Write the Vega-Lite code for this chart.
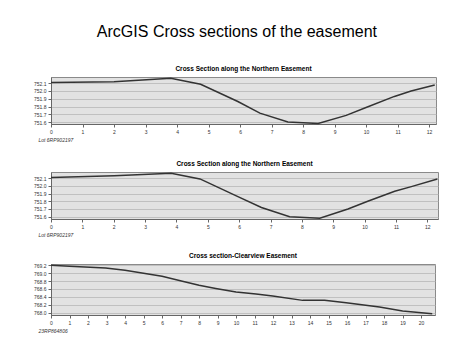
{
  "$schema": "https://vega.github.io/schema/vega-lite/v6.json",
  "padding": {"left": 32, "top": 24, "right": 10, "bottom": 5},
  "title": {"text": "ArcGIS Cross sections of the easement", "fontSize": 16, "fontWeight": "normal", "font": "Liberation Sans", "color": "#000", "anchor": "middle", "offset": 25},
  "datasets": {
    "north1": [
      {"dist": 0, "elev": 752.109},
      {"dist": 2.0, "elev": 752.12},
      {"dist": 3.8, "elev": 752.164},
      {"dist": 4.75, "elev": 752.087},
      {"dist": 5.93, "elev": 751.865},
      {"dist": 6.63, "elev": 751.715},
      {"dist": 7.52, "elev": 751.6},
      {"dist": 8.48, "elev": 751.583},
      {"dist": 9.37, "elev": 751.686},
      {"dist": 10.0, "elev": 751.788},
      {"dist": 10.9, "elev": 751.93},
      {"dist": 11.43, "elev": 752.0},
      {"dist": 12.18, "elev": 752.078}
    ],
    "north2": [
      {"dist": 0, "elev": 752.108},
      {"dist": 2.02, "elev": 752.13},
      {"dist": 3.83, "elev": 752.165},
      {"dist": 4.75, "elev": 752.09},
      {"dist": 5.96, "elev": 751.86},
      {"dist": 6.71, "elev": 751.72},
      {"dist": 7.61, "elev": 751.6},
      {"dist": 8.57, "elev": 751.58},
      {"dist": 9.47, "elev": 751.7},
      {"dist": 10.1, "elev": 751.8},
      {"dist": 10.96, "elev": 751.93},
      {"dist": 11.49, "elev": 751.99},
      {"dist": 12.32, "elev": 752.09}
    ],
    "clearview": [
      {"dist": 0, "elev": 769.2},
      {"dist": 1.0, "elev": 769.175},
      {"dist": 2.95, "elev": 769.13},
      {"dist": 4.0, "elev": 769.07},
      {"dist": 6.0, "elev": 768.92},
      {"dist": 7.1, "elev": 768.795},
      {"dist": 8.0, "elev": 768.69},
      {"dist": 8.9, "elev": 768.61},
      {"dist": 10.0, "elev": 768.52},
      {"dist": 11.08, "elev": 768.47},
      {"dist": 11.98, "elev": 768.42},
      {"dist": 13.6, "elev": 768.31},
      {"dist": 14.78, "elev": 768.31},
      {"dist": 15.95, "elev": 768.25},
      {"dist": 17.75, "elev": 768.14},
      {"dist": 19.0, "elev": 768.04},
      {"dist": 20.6, "elev": 767.97}
    ]
  },
  "vconcat": [
    {
      "spacing": 17,
      "vconcat": [
        {
          "width": 385, "height": 47,
          "title": {"text": "Cross Section along the Northern Easement"},
          "data": {"name": "north1"},
          "mark": {"type": "line", "color": "#333", "strokeWidth": 1.5},
          "encoding": {
            "x": {"field": "dist", "type": "quantitative", "scale": {"domain": [0, 12.22], "nice": false}, "axis": {"values": [0,1,2,3,4,5,6,7,8,9,10,11,12], "title": "Lot 6RP902197"}},
            "y": {"field": "elev", "type": "quantitative", "scale": {"domain": [751.575, 752.18], "nice": false, "zero": false}, "axis": {"values": [751.6, 751.7, 751.8, 751.9, 752, 752.1], "title": null}}
          }
        },
        {
          "width": 387, "height": 47,
          "title": {"text": "Cross Section along the Northern Easement"},
          "data": {"name": "north2"},
          "mark": {"type": "line", "color": "#333", "strokeWidth": 1.5},
          "encoding": {
            "x": {"field": "dist", "type": "quantitative", "scale": {"domain": [0, 12.34], "nice": false}, "axis": {"values": [0,1,2,3,4,5,6,7,8,9,10,11,12], "title": "Lot 6RP902197"}},
            "y": {"field": "elev", "type": "quantitative", "scale": {"domain": [751.57, 752.18], "nice": false, "zero": false}, "axis": {"values": [751.6, 751.7, 751.8, 751.9, 752, 752.1], "title": null}}
          }
        }
      ]
    },
    {
      "width": 384, "height": 51,
      "title": {"text": "Cross section-Clearview Easement"},
      "data": {"name": "clearview"},
      "mark": {"type": "line", "color": "#333", "strokeWidth": 1.5},
      "encoding": {
        "x": {"field": "dist", "type": "quantitative", "scale": {"domain": [0, 20.75], "nice": false}, "axis": {"values": [0,1,2,3,4,5,6,7,8,9,10,11,12,13,14,15,16,17,18,19,20], "title": "23RP864806"}},
        "y": {"field": "elev", "type": "quantitative", "scale": {"domain": [767.94, 769.23], "nice": false, "zero": false}, "axis": {"values": [768, 768.2, 768.4, 768.6, 768.8, 769, 769.2], "title": null}}
      }
    }
  ],
  "spacing": 14,
  "config": {
    "font": "Liberation Sans",
    "view": {"fill": "#e2e2e2", "stroke": "#8a8a8a", "strokeWidth": 1},
    "title": {"fontSize": 6.5, "fontWeight": "bold", "font": "Liberation Sans", "color": "#000", "offset": 3, "anchor": "middle"},
    "axis": {
      "labelFontSize": 5, "labelColor": "#333", "labelFont": "Liberation Sans",
      "domainColor": "#666", "tickColor": "#666", "tickSize": 3,
      "labelPadding": 2
    },
    "axisX": {"grid": false, "titleFontSize": 5, "titleFontWeight": "normal", "titleFontStyle": "italic", "titleAnchor": "start", "titleAlign": "left", "titleX": -13, "titlePadding": 3, "titleColor": "#333", "labelFlush": false},
    "axisY": {"grid": true, "gridColor": "#b8b8b8", "gridWidth": 0.8, "labelFlush": false}
  }
}
